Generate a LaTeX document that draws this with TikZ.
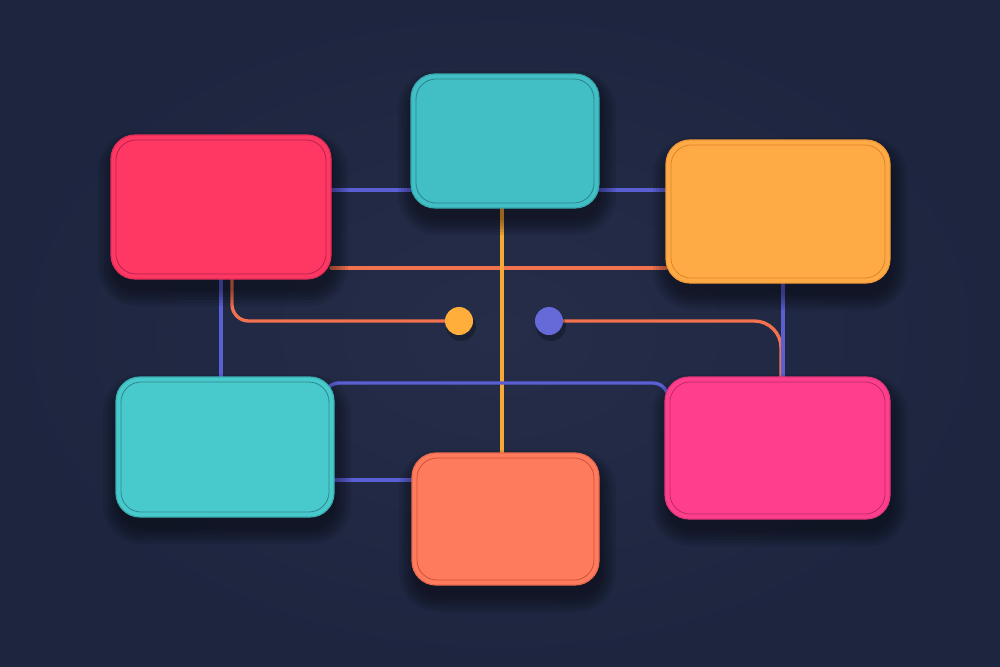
\documentclass[tikz,border=0pt]{standalone}
\usetikzlibrary{calc}
\pgfdeclarelayer{bg}
\pgfdeclarelayer{lines}
\pgfdeclarelayer{shadow}
\pgfsetlayers{bg,lines,shadow,main}
\definecolor{bgin}{HTML}{252D49}
\definecolor{bgout}{HTML}{1D253F}
\definecolor{lblue}{HTML}{5A5FD4}
\definecolor{lcoral}{HTML}{F2714F}
\definecolor{lyellow}{HTML}{F6A935}
\definecolor{cred}{HTML}{FF3763}
\definecolor{credl}{HTML}{B82450}
\definecolor{ctealA}{HTML}{42BFC5}
\definecolor{ctealAl}{HTML}{2A858C}
\definecolor{corange}{HTML}{FFAB45}
\definecolor{corangel}{HTML}{E2832C}
\definecolor{ctealB}{HTML}{48C9CB}
\definecolor{ctealBl}{HTML}{2C8A8E}
\definecolor{csalmon}{HTML}{FF7B5D}
\definecolor{csalmonl}{HTML}{CF5239}
\definecolor{cpink}{HTML}{FF3F8D}
\definecolor{cpinkl}{HTML}{BE2A66}
\definecolor{dyellow}{HTML}{FFAD3B}
\definecolor{dblue}{HTML}{6669D8}
\newcommand\pxu{0.03cm}
\tikzset{
  cardbox/.style={rectangle, inner sep=0pt, outer sep=0pt, rounded corners=0.72cm, line width=1pt},
  innerline/.style={line width=0.7pt, rounded corners=0.6cm},
  conn/.style={line width=0.1cm, line cap=round},
  dotnode/.style={circle, inner sep=0pt, minimum size=28*0.03cm},
}
% #1 name, #2 cx, #3 cy, #4 w, #5 h, #6 fill, #7 line colour
\newcommand\card[7]{%
  \begin{pgfonlayer}{shadow}
    \foreach \s in {0,3,6,9,12,15}{%
      \pgfmathsetmacro\rc{(24+\s)*0.03}
      \fill[black, opacity=0.08, rounded corners=\rc cm]
        ({#2-#4/2-\s+2},{#3-#5/2-\s+12}) rectangle ({#2+#4/2+\s+2},{#3+#5/2+\s+12});
    }
  \end{pgfonlayer}
  \node[cardbox, fill=#6, draw=#7!45!#6, minimum width=#4*\pxu, minimum height=#5*\pxu] (#1) at (#2,#3) {};
  \draw[innerline, draw=#7] ([shift={(5,5)}]#1.north west) rectangle ([shift={(-5,-5)}]#1.south east);
}
\begin{document}
\begin{tikzpicture}[x=0.03cm, y=-0.03cm]
\useasboundingbox (0,0) rectangle (1000,667);
\begin{pgfonlayer}{bg}
  \shade[inner color=bgin, outer color=bgout] (0,0) rectangle (1000,667);
\end{pgfonlayer}

\card{red}{221}{207}{220}{144}{cred}{credl}
\card{tealT}{505}{141}{188}{134}{ctealA}{ctealAl}
\card{orange}{778}{211.5}{224}{143}{corange}{corangel}
\card{tealL}{225}{447}{218}{140}{ctealB}{ctealBl}
\card{salmon}{505.5}{519}{187}{132}{csalmon}{csalmonl}
\card{pink}{777.5}{448}{225}{142}{cpink}{cpinkl}

\begin{pgfonlayer}{shadow}
  \fill[black, opacity=0.25] (461,326) circle (15);
  \fill[black, opacity=0.25] (551,326) circle (15);
\end{pgfonlayer}
\node[dotnode, fill=dyellow] (ydot) at (459,321) {};
\node[dotnode, fill=dblue] (bdot) at (549,321) {};

\begin{pgfonlayer}{lines}
  % top blue line through the top teal card
  \draw[conn, lblue] (red.east |- 0,190) -- (orange.west |- 0,190);
  % coral line between red and orange cards
  \draw[conn, lcoral] (red.east |- 0,268) -- (orange.west |- 0,268);
  % yellow vertical
  \draw[conn, lyellow] (tealT.south -| 502,0) -- (salmon.north -| 502,0);
  % blue vertical on the left
  \draw[conn, lblue] (red.south) -- (red.south |- tealL.north);
  % coral curve to yellow dot
  \draw[conn, lcoral, rounded corners=0.5cm] (red.south -| 232,0) |- (ydot.center);
  % coral curve from blue dot
  \draw[conn, lcoral, rounded corners=0.8cm] (bdot.center) -| (pink.north -| 781,0);
  % blue vertical on the right
  \draw[conn, lblue] (orange.south -| 783,0) -- (pink.north -| 783,0);
  % blue line from lower teal card to pink card
  \draw[conn, lblue, rounded corners=0.45cm] ($(tealL.north east)+(-10,20)$) |- ($(pink.north west)+(3,6)$) -- ($(pink.north west)+(3,30)$);
  % blue line from lower teal to salmon
  \draw[conn, lblue] (tealL.east |- 0,480) -- (salmon.west |- 0,480);
\end{pgfonlayer}
\end{tikzpicture}
\end{document}
